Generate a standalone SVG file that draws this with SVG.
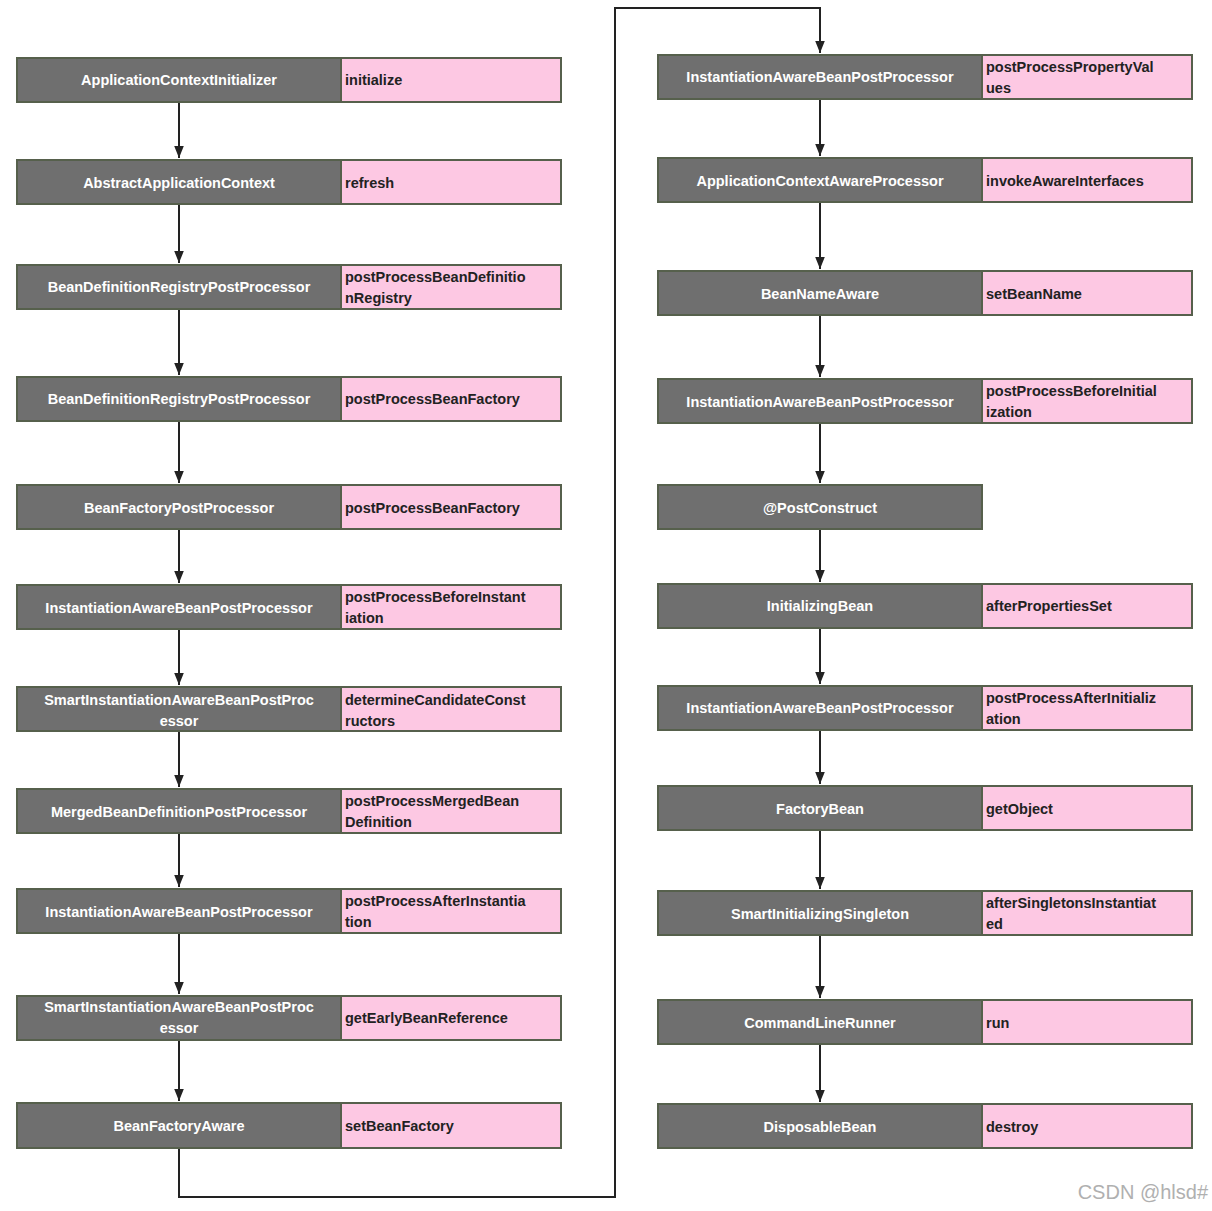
<svg xmlns="http://www.w3.org/2000/svg" width="1212" height="1211" viewBox="0 0 1212 1211">
<defs>
<style>
.d{fill:#6f6f6f;stroke:#56604c;stroke-width:2}
.p{fill:#fdc8e3;stroke:#56604c;stroke-width:2}
.w{fill:#fff;font:bold 14.5px "Liberation Sans",Arial,sans-serif;text-anchor:middle}
.k{fill:#222;font:bold 14.5px "Liberation Sans",Arial,sans-serif}
.c{fill:none;stroke:#222;stroke-width:2}
</style>
<marker id="a" viewBox="0 0 10 10" refX="10" refY="5" markerWidth="6" markerHeight="6" orient="auto"><path d="M0,1 L10,5 L0,9 z" fill="#222"/></marker>
</defs>
<rect width="1212" height="1211" fill="#fff"/>
<g id="connectors">
<path class="c" marker-end="url(#a)" d="M179,102V158"/>
<path class="c" marker-end="url(#a)" d="M179,204V263"/>
<path class="c" marker-end="url(#a)" d="M179,309V375"/>
<path class="c" marker-end="url(#a)" d="M179,421V483"/>
<path class="c" marker-end="url(#a)" d="M179,529V583"/>
<path class="c" marker-end="url(#a)" d="M179,629V685"/>
<path class="c" marker-end="url(#a)" d="M179,731V787"/>
<path class="c" marker-end="url(#a)" d="M179,833V887"/>
<path class="c" marker-end="url(#a)" d="M179,933V994"/>
<path class="c" stroke-width="1" marker-end="url(#a)" d="M179,1040V1101"/>
<path class="c" marker-end="url(#a)" d="M179,1148V1197H615V8H820V53"/>
<path class="c" marker-end="url(#a)" d="M820,99V156"/>
<path class="c" marker-end="url(#a)" d="M820,202V269"/>
<path class="c" marker-end="url(#a)" d="M820,315V377"/>
<path class="c" marker-end="url(#a)" d="M820,423V483"/>
<path class="c" marker-end="url(#a)" d="M820,529V582"/>
<path class="c" marker-end="url(#a)" d="M820,628V684"/>
<path class="c" marker-end="url(#a)" d="M820,730V784"/>
<path class="c" stroke-width="1" marker-end="url(#a)" d="M820,830V889"/>
<path class="c" stroke-width="1" marker-end="url(#a)" d="M820,935V998"/>
<path class="c" marker-end="url(#a)" d="M820,1044V1102"/>
</g>
<g id="n1"><rect class="d" x="17" y="58" width="324" height="44"/><rect class="p" x="341" y="58" width="220" height="44"/><text class="w" x="179" y="85">ApplicationContextInitializer</text><text class="k" x="345" y="85">initialize</text></g>
<g id="n2"><rect class="d" x="17" y="160" width="324" height="44"/><rect class="p" x="341" y="160" width="220" height="44"/><text class="w" x="179" y="188">AbstractApplicationContext</text><text class="k" x="345" y="188">refresh</text></g>
<g id="n3"><rect class="d" x="17" y="265" width="324" height="44"/><rect class="p" x="341" y="265" width="220" height="44"/><text class="w" x="179" y="292">BeanDefinitionRegistryPostProcessor</text><text class="k" x="345" y="282">postProcessBeanDefinitio</text><text class="k" x="345" y="303">nRegistry</text></g>
<g id="n4"><rect class="d" x="17" y="377" width="324" height="44"/><rect class="p" x="341" y="377" width="220" height="44"/><text class="w" x="179" y="404">BeanDefinitionRegistryPostProcessor</text><text class="k" x="345" y="404">postProcessBeanFactory</text></g>
<g id="n5"><rect class="d" x="17" y="485" width="324" height="44"/><rect class="p" x="341" y="485" width="220" height="44"/><text class="w" x="179" y="513">BeanFactoryPostProcessor</text><text class="k" x="345" y="513">postProcessBeanFactory</text></g>
<g id="n6"><rect class="d" x="17" y="585" width="324" height="44"/><rect class="p" x="341" y="585" width="220" height="44"/><text class="w" x="179" y="613">InstantiationAwareBeanPostProcessor</text><text class="k" x="345" y="602">postProcessBeforeInstant</text><text class="k" x="345" y="623">iation</text></g>
<g id="n7"><rect class="d" x="17" y="687" width="324" height="44"/><rect class="p" x="341" y="687" width="220" height="44"/><text class="w" x="179" y="705">SmartInstantiationAwareBeanPostProc</text><text class="w" x="179" y="726">essor</text><text class="k" x="345" y="705">determineCandidateConst</text><text class="k" x="345" y="726">ructors</text></g>
<g id="n8"><rect class="d" x="17" y="789" width="324" height="44"/><rect class="p" x="341" y="789" width="220" height="44"/><text class="w" x="179" y="817">MergedBeanDefinitionPostProcessor</text><text class="k" x="345" y="806">postProcessMergedBean</text><text class="k" x="345" y="827">Definition</text></g>
<g id="n9"><rect class="d" x="17" y="889" width="324" height="44"/><rect class="p" x="341" y="889" width="220" height="44"/><text class="w" x="179" y="917">InstantiationAwareBeanPostProcessor</text><text class="k" x="345" y="906">postProcessAfterInstantia</text><text class="k" x="345" y="927">tion</text></g>
<g id="n10"><rect class="d" x="17" y="996" width="324" height="44"/><rect class="p" x="341" y="996" width="220" height="44"/><text class="w" x="179" y="1012">SmartInstantiationAwareBeanPostProc</text><text class="w" x="179" y="1033">essor</text><text class="k" x="345" y="1023">getEarlyBeanReference</text></g>
<g id="n11"><rect class="d" x="17" y="1103" width="324" height="45"/><rect class="p" x="341" y="1103" width="220" height="45"/><text class="w" x="179" y="1131">BeanFactoryAware</text><text class="k" x="345" y="1131">setBeanFactory</text></g>
<g id="m1"><rect class="d" x="658" y="55" width="324" height="44"/><rect class="p" x="982" y="55" width="210" height="44"/><text class="w" x="820" y="82">InstantiationAwareBeanPostProcessor</text><text class="k" x="986" y="72">postProcessPropertyVal</text><text class="k" x="986" y="93">ues</text></g>
<g id="m2"><rect class="d" x="658" y="158" width="324" height="44"/><rect class="p" x="982" y="158" width="210" height="44"/><text class="w" x="820" y="186">ApplicationContextAwareProcessor</text><text class="k" x="986" y="186">invokeAwareInterfaces</text></g>
<g id="m3"><rect class="d" x="658" y="271" width="324" height="44"/><rect class="p" x="982" y="271" width="210" height="44"/><text class="w" x="820" y="299">BeanNameAware</text><text class="k" x="986" y="299">setBeanName</text></g>
<g id="m4"><rect class="d" x="658" y="379" width="324" height="44"/><rect class="p" x="982" y="379" width="210" height="44"/><text class="w" x="820" y="407">InstantiationAwareBeanPostProcessor</text><text class="k" x="986" y="396">postProcessBeforeInitial</text><text class="k" x="986" y="417">ization</text></g>
<g id="m5"><rect class="d" x="658" y="485" width="324" height="44"/><text class="w" x="820" y="513">@PostConstruct</text></g>
<g id="m6"><rect class="d" x="658" y="584" width="324" height="44"/><rect class="p" x="982" y="584" width="210" height="44"/><text class="w" x="820" y="611">InitializingBean</text><text class="k" x="986" y="611">afterPropertiesSet</text></g>
<g id="m7"><rect class="d" x="658" y="686" width="324" height="44"/><rect class="p" x="982" y="686" width="210" height="44"/><text class="w" x="820" y="713">InstantiationAwareBeanPostProcessor</text><text class="k" x="986" y="703">postProcessAfterInitializ</text><text class="k" x="986" y="724">ation</text></g>
<g id="m8"><rect class="d" x="658" y="786" width="324" height="44"/><rect class="p" x="982" y="786" width="210" height="44"/><text class="w" x="820" y="814">FactoryBean</text><text class="k" x="986" y="814">getObject</text></g>
<g id="m9"><rect class="d" x="658" y="891" width="324" height="44"/><rect class="p" x="982" y="891" width="210" height="44"/><text class="w" x="820" y="919">SmartInitializingSingleton</text><text class="k" x="986" y="908">afterSingletonsInstantiat</text><text class="k" x="986" y="929">ed</text></g>
<g id="m10"><rect class="d" x="658" y="1000" width="324" height="44"/><rect class="p" x="982" y="1000" width="210" height="44"/><text class="w" x="820" y="1028">CommandLineRunner</text><text class="k" x="986" y="1028">run</text></g>
<g id="m11"><rect class="d" x="658" y="1104" width="324" height="44"/><rect class="p" x="982" y="1104" width="210" height="44"/><text class="w" x="820" y="1132">DisposableBean</text><text class="k" x="986" y="1132">destroy</text></g>
<text x="1208" y="1199" text-anchor="end" fill="#b0b0b0" font-family="'Liberation Sans',Arial,sans-serif" font-size="20">CSDN @hlsd#</text>
</svg>
